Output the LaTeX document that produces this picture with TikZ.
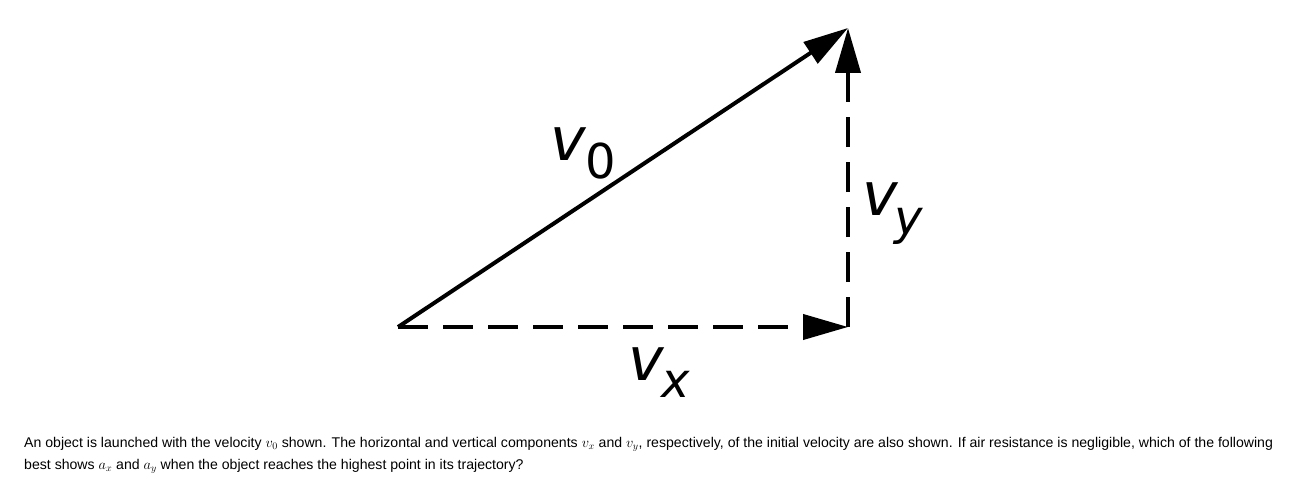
\documentclass[tikz,border=0pt]{standalone}
\usepackage{fontspec}
\setmainfont{Liberation Sans}
\newfontfamily\lbl{DejaVu Sans}
\usetikzlibrary{arrows.meta}
\begin{document}
\begin{tikzpicture}[x=1pt,y=-1pt,
  vec/.style={line width=4pt,-{Triangle[length=45pt,width=25pt]}},
  dvec/.style={vec,dash pattern=on 30pt off 15pt},
  big/.style={inner sep=0pt,anchor=base west,font=\lbl\fontsize{60}{60}\selectfont\itshape},
  sub/.style={inner sep=0pt,anchor=base west,font=\lbl\fontsize{48}{48}\selectfont},
  txt/.style={inner sep=0pt,anchor=base west,font=\fontsize{14.1}{16}\selectfont}]
\useasboundingbox (0,0) rectangle (1292,492);
\coordinate (o) at (398,327);
\coordinate (c) at (848,327);
\coordinate (t) at (848,28);
\draw[vec] (o) -- (t);
\draw[dvec] (o) -- (c);
\draw[dvec] (c) -- (t);
\node[big] (v0) at (550,160) {v};
\node[sub] (s0) at (585,178) {0};
\node[big] (vy) at (862,215) {v};
\node[sub,font=\lbl\fontsize{48}{48}\selectfont\itshape] (sy) at (894,234) {y};
\node[big] (vx) at (628,380) {v};
\node[sub,font=\lbl\fontsize{48}{48}\selectfont\itshape] (sx) at (661,397) {x};
\node[txt] (l1) at (24,447) {An object is launched with the velocity $v_0$ shown. The horizontal and vertical components $v_x$ and $v_y$, respectively, of the initial velocity are also shown. If air resistance is negligible, which of the following};
\node[txt] (l2) at (24,469) {best shows $a_x$ and $a_y$ when the object reaches the highest point in its trajectory?};
\end{tikzpicture}
\end{document}
